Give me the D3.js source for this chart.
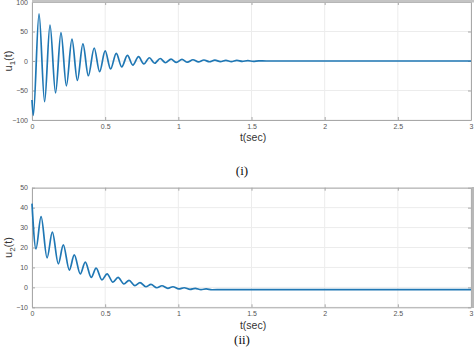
<!DOCTYPE html>
<html><head><meta charset="utf-8">
<script src="https://cdn.jsdelivr.net/npm/d3@7"></script>
<style>body{margin:0;background:#fff}svg{display:block}</style>
</head><body>
<svg id="c" width="474" height="347"></svg>
<script>
// u1(t): extrema (i)
const t1 = [0, 0.009, 0.048, 0.086, 0.123, 0.161, 0.198, 0.235, 0.273, 0.31, 0.348, 0.385, 0.425, 0.462, 0.50, 0.537, 0.576, 0.613, 0.652, 0.689, 0.728, 0.764, 0.802, 0.838, 0.876, 0.912, 0.95, 0.987, 1.025, 1.062, 1.10, 1.137, 1.175, 1.212, 1.25, 1.287, 1.325, 1.362, 1.40, 1.437, 1.475, 1.512, 1.55, 1.6, 3.0];
const u1 = [-66, -92, 80, -69, 61, -54, 48, -42, 37, -33, 29, -25, 22, -18, 17, -13.5, 13, -10, 9.6, -7, 7.3, -5, 5.5, -3.8, 4.2, -3, 3.2, -2.4, 2.6, -2, 2.1, -1.6, 1.7, -1.3, 1.4, -1.1, 1.1, -0.9, 0.9, -0.7, 0.6, -0.5, 0.3, 0, 0];
// u2(t): extrema (ii)
const t2 = [0, 0.027, 0.062, 0.103, 0.139, 0.18, 0.214, 0.255, 0.289, 0.33, 0.364, 0.405, 0.438, 0.478, 0.513, 0.553, 0.588, 0.628, 0.663, 0.703, 0.738, 0.778, 0.813, 0.853, 0.888, 0.928, 0.963, 1.003, 1.04, 1.08, 1.115, 1.155, 1.19, 1.23, 1.3, 3.0];
const u2 = [42, 19.3, 35.5, 14.8, 27.7, 11.8, 21.3, 8.7, 16.3, 6.7, 12.7, 5, 9.7, 3.8, 6.8, 2.6, 5, 1.7, 3.5, 0.9, 2.4, 0.3, 1.5, -0.2, 0.8, -0.5, 0.3, -0.8, -0.2, -1, -0.5, -1.1, -0.8, -1.2, -1.1, -1.1];

const xTicks = [0, 0.5, 1, 1.5, 2, 2.5, 3];
const y1Ticks = [-100, -50, 0, 50, 100];
const y2Ticks = [-10, 0, 10, 20, 30, 40, 50];
const xLabel = "t(sec)";
const captions = ["(i)", "(ii)"];

const svg = d3.select("#c");
const FONT = "'Liberation Sans', Arial, sans-serif";

function panel(opt) {
  const {t, u, yDomain, yTicks, top, bottom, sub, caption, capY, xlabY} = opt;
  const x = d3.scaleLinear().domain([0, 3]).range([32, 471]);
  const y = d3.scaleLinear().domain(yDomain).range([bottom, top]);
  const g = svg.append("g");
  // grid
  g.selectAll(".gx").data(xTicks).enter().append("line")
    .attr("x1", d => x(d)).attr("x2", d => x(d)).attr("y1", top).attr("y2", bottom)
    .attr("stroke", "#ececec").attr("stroke-width", 1);
  g.selectAll(".gy").data(yTicks).enter().append("line")
    .attr("x1", 32).attr("x2", 471).attr("y1", d => y(d)).attr("y2", d => y(d))
    .attr("stroke", "#ececec").attr("stroke-width", 1);
  // axes
  const ax = g.append("g").attr("transform", `translate(0,${bottom})`)
    .call(d3.axisBottom(x).tickValues(xTicks).tickSizeInner(-3).tickSizeOuter(0).tickPadding(4).tickFormat(d3.format("")));
  const ay = g.append("g").attr("transform", `translate(32,0)`)
    .call(d3.axisLeft(y).tickValues(yTicks).tickSizeInner(-3).tickSizeOuter(0).tickPadding(4));
  const axT = g.append("g").attr("transform", `translate(0,${top})`)
    .call(d3.axisTop(x).tickValues(xTicks).tickSizeInner(-3).tickSizeOuter(0).tickFormat(""));
  const ayR = g.append("g").attr("transform", `translate(471,0)`)
    .call(d3.axisRight(y).tickValues(yTicks).tickSizeInner(-3).tickSizeOuter(0).tickFormat(""));
  [ax, ay, axT, ayR].forEach(a => {
    a.select(".domain").attr("stroke", "#a8a8a8");
    a.selectAll(".tick line").attr("stroke", "#a8a8a8");
    a.selectAll("text").attr("fill", "#555").attr("font-size", "7px").attr("font-family", FONT);
  });
  // line
  const line = d3.line().x((d, i) => x(t[i])).y(d => y(d)).curve(d3.curveMonotoneX);
  g.append("path").datum(u).attr("d", line).attr("fill", "none")
    .attr("stroke", "#1f77b4").attr("stroke-width", 1.7).attr("stroke-linejoin", "round");
  // y label
  const yl = g.append("text").attr("transform", `translate(12,${(top + bottom) / 2}) rotate(-90)`)
    .attr("text-anchor", "middle").attr("fill", "#333").attr("font-size", "11px").attr("font-family", FONT);
  yl.append("tspan").text("u");
  yl.append("tspan").attr("font-size", "8px").attr("dy", 3).text(sub);
  yl.append("tspan").attr("dy", -3).text("(t)");
  // x label
  g.append("text").attr("x", 253).attr("y", xlabY).attr("text-anchor", "middle")
    .attr("fill", "#333").attr("font-size", "10.5px").attr("font-family", FONT).text(xLabel);
  // caption
  g.append("text").attr("x", 242).attr("y", capY).attr("text-anchor", "middle")
    .attr("fill", "#111").attr("font-size", "13px").attr("font-family", "'Liberation Serif', 'Times New Roman', serif").text(caption);
  return g;
}

panel({t: t1, u: u1, yDomain: [-100, 100], yTicks: y1Ticks, top: 2, bottom: 120, sub: "1", caption: captions[0], capY: 175, xlabY: 141});
panel({t: t2, u: u2, yDomain: [-10, 50], yTicks: y2Ticks, top: 187.7, bottom: 307.3, sub: "2", caption: captions[1], capY: 344, xlabY: 329});
// top border band of panel (i) and right band of panel (ii)
svg.append("rect").attr("x", 32).attr("y", 0).attr("width", 442).attr("height", 2.5).attr("fill", "#c4c4c4");
svg.append("rect").attr("x", 471.5).attr("y", 187).attr("width", 2.5).attr("height", 121).attr("fill", "#b8b8b8");
</script>
</body></html>
